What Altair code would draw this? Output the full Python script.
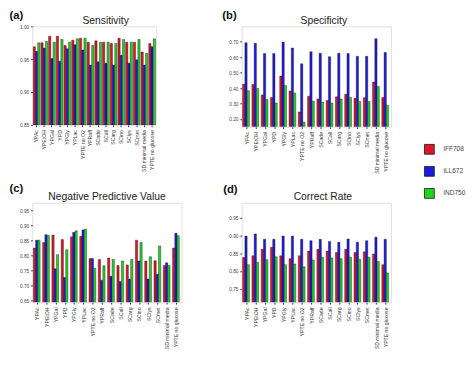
import altair as alt
import pandas as pd

categories = ["YPAc", "YPEtOH", "YPGal", "YPD", "YPGly", "YPLac", "YPTE no O2", "YPRaff",
              "SCade", "SCall", "SCarg", "SCino", "SClys", "SCmet", "SD minimal media",
              "YPTE no glucose"]
models = ["iFF708", "iLL672", "iND750"]
colors = ["#e0142a", "#1c1ce0", "#22d222"]

sens_iFF708 = [0.969, 0.975, 0.985, 0.985, 0.971, 0.979, 0.982, 0.976, 0.978, 0.976, 0.974, 0.982, 0.976, 0.976, 0.961, 0.974]
sens_iLL672 = [0.962, 0.967, 0.951, 0.947, 0.966, 0.972, 0.964, 0.941, 0.946, 0.944, 0.941, 0.956, 0.944, 0.949, 0.941, 0.969]
sens_iND750 = [0.975, 0.977, 0.976, 0.980, 0.976, 0.981, 0.982, 0.971, 0.976, 0.976, 0.974, 0.980, 0.976, 0.980, 0.959, 0.981]

spec_iFF708 = [0.426, 0.424, 0.356, 0.340, 0.478, 0.382, 0.246, 0.348, 0.330, 0.320, 0.344, 0.360, 0.334, 0.338, 0.440, 0.340]
spec_iLL672 = [0.694, 0.690, 0.624, 0.624, 0.698, 0.660, 0.558, 0.636, 0.626, 0.604, 0.626, 0.624, 0.606, 0.606, 0.720, 0.630]
spec_iND750 = [0.384, 0.398, 0.326, 0.304, 0.418, 0.368, 0.180, 0.316, 0.310, 0.304, 0.330, 0.340, 0.314, 0.314, 0.410, 0.290]

npv_iFF708 = [0.825, 0.843, 0.868, 0.853, 0.862, 0.864, 0.790, 0.787, 0.792, 0.767, 0.769, 0.851, 0.782, 0.783, 0.767, 0.825]
npv_iLL672 = [0.851, 0.869, 0.756, 0.727, 0.877, 0.885, 0.790, 0.718, 0.731, 0.714, 0.722, 0.782, 0.722, 0.738, 0.776, 0.874]
npv_iND750 = [0.851, 0.867, 0.803, 0.819, 0.882, 0.888, 0.758, 0.766, 0.787, 0.782, 0.787, 0.843, 0.796, 0.832, 0.767, 0.866]

cr_iFF708 = [0.838, 0.843, 0.861, 0.867, 0.843, 0.835, 0.843, 0.856, 0.861, 0.856, 0.852, 0.861, 0.852, 0.854, 0.848, 0.818]
cr_iLL672 = [0.898, 0.904, 0.889, 0.889, 0.898, 0.898, 0.889, 0.885, 0.889, 0.883, 0.881, 0.890, 0.881, 0.885, 0.895, 0.889]
cr_iND750 = [0.818, 0.825, 0.832, 0.840, 0.818, 0.820, 0.812, 0.831, 0.839, 0.837, 0.835, 0.839, 0.833, 0.839, 0.827, 0.795]

FONT = "Liberation Sans"


def long_df(a, b, c):
    rows = []
    for m, vals in zip(models, [a, b, c]):
        for cat, v in zip(categories, vals):
            rows.append({"cat": cat, "model": m, "value": v})
    return pd.DataFrame(rows)


def panel(title, tag, tagxy, df, domain, ticks, width, height, min_extent, dx):
    base = alt.Chart(df)
    bars = base.mark_bar(stroke="#111111", strokeWidth=0.4, clip=True).encode(
        x=alt.X("cat:N", sort=categories, title=None,
                scale=alt.Scale(paddingInner=0.12, paddingOuter=0.1),
                axis=alt.Axis(labelAngle=270, labelAlign="right", labelBaseline="middle",
                              labelFontSize=5.5, labelColor="#333333",
                              labelFont=FONT, tickSize=2, tickColor="#333333",
                              domain=False, labelPadding=3)),
        xOffset=alt.XOffset("model:N", sort=models),
        y=alt.Y("value:Q", title=None,
                scale=alt.Scale(domain=domain, zero=False, nice=False),
                axis=alt.Axis(values=ticks, format=".2f", labelFontSize=5,
                              labelColor="#444444", labelFont=FONT, tickSize=2,
                              tickColor="#333333", grid=False, domain=False,
                              minExtent=min_extent, labelPadding=2)),
        y2=alt.datum(domain[0]),
        color=alt.Color("model:N", sort=models,
                        scale=alt.Scale(domain=models, range=colors),
                        legend=alt.Legend(title=None, orient="none", legendX=417, legendY=125,
                                          symbolType="square", symbolSize=110,
                                          symbolStrokeColor="#111111", symbolStrokeWidth=0.8,
                                          symbolOpacity=1, labelFontSize=7,
                                          labelColor="#444444", labelFont=FONT,
                                          labelOffset=9, rowPadding=9.5, padding=0)),
    )
    tag_mark = alt.Chart(pd.DataFrame({"t": [tag]})).mark_text(
        fontSize=12, fontWeight="bold", font=FONT, color="#111111").encode(
        text="t:N", x=alt.value(tagxy[0]), y=alt.value(tagxy[1]))
    title_mark = alt.Chart(pd.DataFrame({"t": [title]})).mark_text(
        fontSize=11, font=FONT, color="#222222", baseline="alphabetic").encode(
        text="t:N", x=alt.value(width / 2 + dx), y=alt.value(-3))
    return alt.layer(bars, tag_mark, title_mark).properties(width=width, height=height)


pa = panel("Sensitivity", "(a)", (-17, -12), long_df(sens_iFF708, sens_iLL672, sens_iND750),
           [0.85, 1.0], [0.85, 0.90, 0.95, 1.00], 132, 105, 25, 12)
pb = panel("Specificity", "(b)", (-13, -12), long_df(spec_iFF708, spec_iLL672, spec_iND750),
           [0.15, 0.80], [0.2, 0.3, 0.4, 0.5, 0.6, 0.7], 159, 107, 20, 8)
pc = panel("Negative Predictive Value", "(c)", (-17, -15), long_df(npv_iFF708, npv_iLL672, npv_iND750),
           [0.645, 0.975], [0.65, 0.70, 0.75, 0.80, 0.85, 0.90, 0.95], 159, 106, 17, 0)
pd_ = panel("Correct Rate", "(d)", (-12, -14), long_df(cr_iFF708, cr_iLL672, cr_iND750),
            [0.713, 0.991], [0.75, 0.80, 0.85, 0.90, 0.95], 159, 106, 20, 7)

row1 = alt.hconcat(pa, pb, spacing=68)
row2 = alt.hconcat(pc, pd_, spacing=42)
chart = alt.vconcat(row1, row2, spacing=8).properties(
    padding={"left": 0, "top": -11, "right": 0, "bottom": 0}
).configure_view(stroke="#222222", strokeWidth=0.8).configure(background="white")

chart.save("out.html", embed_options={"renderer": "svg", "actions": False})
